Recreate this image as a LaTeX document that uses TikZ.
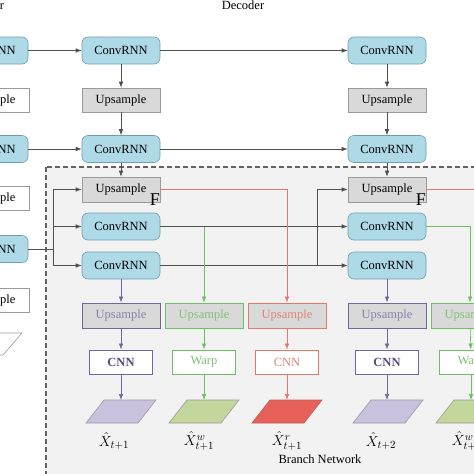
\documentclass[tikz,border=0pt]{standalone}
\usepackage{fontspec}
\setmainfont{Liberation Serif}
\usetikzlibrary{arrows.meta}
\definecolor{rnnfill}{HTML}{ADDAE6}
\definecolor{rnndraw}{HTML}{6F9FAE}
\definecolor{upfill}{HTML}{D9D9D9}
\definecolor{updraw}{HTML}{9A9A9A}
\definecolor{bgfill}{HTML}{F2F2F2}
\definecolor{lnc}{HTML}{505050}
\definecolor{purp}{HTML}{7264A0}
\definecolor{purptext}{HTML}{8A7FAA}
\definecolor{purpdark}{HTML}{5A4C80}
\definecolor{purpfill}{HTML}{C9C1DD}
\definecolor{grn}{HTML}{6CC05F}
\definecolor{grntext}{HTML}{80C274}
\definecolor{grnfill}{HTML}{C3D69B}
\definecolor{redc}{HTML}{E8776A}
\definecolor{redtext}{HTML}{E0857A}
\definecolor{redfill}{HTML}{E8605A}
\newcommand\boxfont{\fontsize{12.5}{14}\selectfont}
\tikzset{
  rnn/.style={draw=rnndraw, fill=rnnfill, rounded corners=6pt, minimum width=78pt, minimum height=27pt, inner sep=0pt, font=\boxfont, line width=0.6pt},
  upg/.style={draw=updraw, fill=upfill, minimum width=78pt, minimum height=24pt, inner sep=0pt, font=\boxfont, line width=0.6pt},
  upw/.style={upg, fill=white},
  brup/.style={draw=#1, fill=upfill, minimum width=78pt, minimum height=25pt, inner sep=0pt, font=\boxfont, line width=1pt},
  cnnbox/.style={draw=#1, fill=white, minimum width=63pt, minimum height=24pt, inner sep=0pt, font=\boxfont, line width=1pt},
  arr/.style={draw=lnc, line width=0.6pt, -{Latex[length=6pt,width=4.5pt]}},
  carr/.style={draw=#1, line width=0.6pt, -{Latex[length=6pt,width=4.5pt]}},
  ln/.style={draw=lnc, line width=0.6pt},
  lab/.style={font=\fontsize{12.5}{14}\selectfont},
  mlab/.style={font=\fontsize{15}{17}\selectfont, inner sep=0pt},
}
\newcommand\para[4]{% name, centre x, fill, draw
  \filldraw[fill=#3, draw=#4, line width=0.6pt] ({#2-35},423) -- ({#2+17},423) -- ({#2+35},400) -- ({#2-17},400) -- cycle;
  \coordinate (#1) at (#2,400);
}
\begin{document}
\begin{tikzpicture}[x=1pt,y=-1pt]
\useasboundingbox (0,0) rectangle (474,474);
% branch network background
\filldraw[fill=bgfill, draw=lnc!90, dashed, dash pattern=on 5pt off 3pt, line width=1.1pt] (46,167) rectangle (500,500);
% titles
\node[lab, anchor=base east] (enc) at (7.5,9) {Encoder};
\node[lab, anchor=base] (dec) at (243,9) {Decoder};
% encoder column
\node[rnn] (e1) at (-11,50.5) {ConvRNN};
\node[upw] (eu1) at (-10,100) {Upsample};
\node[rnn] (e2) at (-11,149) {ConvRNN};
\node[upw] (eu2) at (-10,198.5) {Upsample};
\node[rnn] (e3) at (-11,249) {ConvRNN};
\node[upw] (eu3) at (-10,300) {Upsample};
\filldraw[fill=white, draw=updraw, line width=0.6pt] (-48,355) -- (3,355) -- (22,333) -- (-29,333) -- cycle;
% decoder column 1
\node[rnn] (d1) at (121,50.5) {ConvRNN};
\node[upg] (du1) at (121,100) {Upsample};
\node[rnn] (d2) at (121,149) {ConvRNN};
\node[upg, minimum height=25pt] (uf1) at (121,189.5) {Upsample};
\node[rnn] (d3) at (121,226.5) {ConvRNN};
\node[rnn] (d4) at (121,265.5) {ConvRNN};
% decoder column 2
\node[rnn] (D1) at (387,50.5) {ConvRNN};
\node[upg] (Du1) at (387,100) {Upsample};
\node[rnn] (D2) at (387,149) {ConvRNN};
\node[upg, minimum height=25pt] (uf2) at (387,189.5) {Upsample};
\node[rnn] (D3) at (387,226.5) {ConvRNN};
\node[rnn] (D4) at (387,265.5) {ConvRNN};
% F labels
\node[font=\fontsize{18}{20}\selectfont, inner sep=0pt] (F1) at (155,199.5) {F};
\node[font=\fontsize{18}{20}\selectfont, inner sep=0pt] (F2) at (421,199.5) {F};
% branch row
\node[brup=purp, text=purptext] (bu1) at (121,315.5) {Upsample};
\node[brup=grn, text=grntext] (bg1) at (204,315.5) {Upsample};
\node[brup=redc, text=redtext] (br1) at (287,315.5) {Upsample};
\node[brup=purp, text=purptext] (bu2) at (387,315.5) {Upsample};
\node[brup=grn, text=grntext] (bg2) at (470,315.5) {Upsample};
\node[cnnbox=purp, text=purpdark, font=\boxfont\bfseries] (c1) at (121,362) {CNN};
\node[cnnbox=grn, text=grntext] (w1) at (204,362) {Warp};
\node[cnnbox=redc, text=redtext] (cr1) at (287,362) {CNN};
\node[cnnbox=purp, text=purpdark, font=\boxfont\bfseries] (c2) at (387,362) {CNN};
\node[cnnbox=grn, text=grntext] (w2) at (471,362) {Warp};
\para{p1}{121}{purpfill}{updraw}
\para{p2}{204}{grnfill}{updraw}
\para{p3}{287}{redfill}{redc!80!black}
\para{p4}{388}{purpfill}{updraw}
\para{p5}{471}{grnfill}{updraw}
\node[mlab] (x1) at (114,441) {$\hat{X}_{t+1}$};
\node[mlab] (x2) at (199,441) {$\hat{X}^{w}_{t+1}$};
\node[mlab] (x3) at (287,441) {$\hat{X}^{r}_{t+1}$};
\node[mlab] (x4) at (381,441) {$\hat{X}_{t+2}$};
\node[mlab] (x5) at (467,441) {$\hat{X}^{w}_{t+2}$};
\node[lab] (bn) at (320,459) {Branch Network};
% encoder -> decoder
\draw[arr] (e1) -- (d1);
\draw[arr] (e2) -- (d2);
\coordinate (j1) at (53,249);
\draw[ln] (e3.east) -- (j1);
\draw[ln] (j1 |- uf1) -- (j1 |- d4);
\draw[arr] (j1 |- uf1) -- (uf1);
\draw[arr] (j1 |- d3) -- (d3);
\draw[arr] (j1 |- d4) -- (d4);
% column 1 vertical
\draw[arr] (d1) -- (du1);
\draw[arr] (du1) -- (d2);
\draw[arr] (d2) -- (uf1);
% column 1 -> column 2
\draw[arr] (d1) -- (D1);
\draw[arr] (d2) -- (D2);
\draw[arr] (d3) -- (D3);
\draw[arr] (d4) -- (D4);
\coordinate (j2) at (317,265.5);
\draw[ln] (j2) -- (j2 |- uf2);
\draw[arr] (j2 |- uf2) -- (uf2);
% column 2 vertical
\draw[arr] (D1) -- (Du1);
\draw[arr] (Du1) -- (D2);
\draw[arr] (D2) -- (uf2);
% branches
\draw[carr=redc] (uf1.east) -| (br1.north);
\coordinate (g1) at (204,226.5);
\draw[carr=grn] (g1) -- (bg1.north);
\draw[carr=purp] (d4) -- (bu1);
\coordinate (rr) at (480,189.5);
\draw[redc, line width=0.6pt] (uf2.east) -- (rr);
\draw[carr=grn] (D3.east) -| (bg2.north);
\draw[carr=purp] (D4) -- (bu2);
% branch verticals
\draw[carr=purp] (bu1) -- (c1);
\draw[carr=grn] (bg1) -- (w1);
\draw[carr=redc] (br1) -- (cr1);
\draw[carr=purp] (bu2) -- (c2);
\draw[carr=grn] (bg2) -- (w2);
\draw[carr=purp] (c1) -- (c1 |- p1);
\draw[carr=grn] (w1) -- (w1 |- p2);
\draw[carr=redc] (cr1) -- (cr1 |- p3);
\draw[carr=purp] (c2) -- (c2 |- p4);
\draw[carr=grn] (w2) -- (w2 |- p5);
\end{tikzpicture}
\end{document}
